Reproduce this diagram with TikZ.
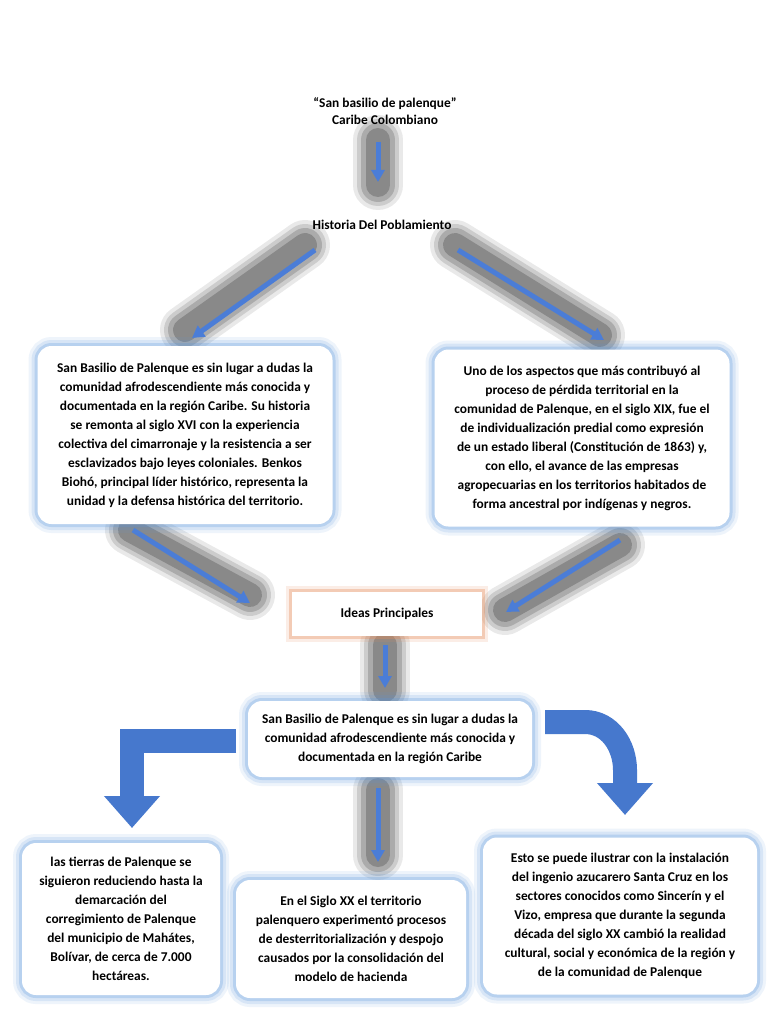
\documentclass[tikz,border=0pt]{standalone}
\usepackage{fontspec}
\setmainfont{Carlito}
\usetikzlibrary{arrows.meta}
\definecolor{glowblue}{RGB}{90,150,220}
\definecolor{bandblue}{RGB}{70,120,205}
\definecolor{arrblue}{RGB}{75,125,215}
\definecolor{orng}{RGB}{230,140,90}
\tikzset{
  box/.style={fill=white, rounded corners=14pt, align=center, inner sep=4pt,
    preaction={draw=glowblue, line width=18pt, opacity=.10, rounded corners=14pt},
    preaction={draw=glowblue, line width=12pt, opacity=.15, rounded corners=14pt},
    preaction={draw=glowblue, line width=6pt, opacity=.25, rounded corners=14pt},
    font=\bfseries\fontsize{13.4}{19}\selectfont},
  obox/.style={fill=white, align=center,
    preaction={draw=orng, line width=12pt, opacity=.15},
    preaction={draw=orng, line width=6pt, opacity=.35},
    font=\bfseries\fontsize{13.4}{15}\selectfont},
  plain/.style={align=center, font=\bfseries\fontsize{13.4}{17}\selectfont},
  grayarrow/.style={line cap=round,
    preaction={draw=black!70, line width=50pt, opacity=.12, line cap=round},
    preaction={draw=black!70, line width=42pt, opacity=.18, line cap=round},
    preaction={draw=black!70, line width=34pt, opacity=.25, line cap=round},
    draw=black!70, line width=24pt, opacity=.35},
  bluearrow/.style={draw=arrblue, line width=5pt, -{Triangle[width=13pt,length=12pt]}},
  band/.style={draw=bandblue, line width=24pt, -{Triangle[width=54pt,length=32pt]}},
}
\begin{document}
\begin{tikzpicture}[x=1pt,y=-1pt]
\useasboundingbox (0,0) rectangle (768,1024);
\fill[white] (0,0) rectangle (768,1024);
% gray arrows
\coordinate (g1a) at (378,140); \coordinate (g1b) at (378,185);
\coordinate (g2a) at (305,245); \coordinate (g2b) at (185,330);
\coordinate (g3a) at (455,245); \coordinate (g3b) at (600,335);
\coordinate (g4a) at (130,530); \coordinate (g4b) at (250,595);
\coordinate (g5a) at (620,545); \coordinate (g5b) at (505,610);
\coordinate (g6a) at (385,645); \coordinate (g6b) at (385,690);
\coordinate (g7a) at (378,790); \coordinate (g7b) at (378,855);
\foreach \a/\b in {g1a/g1b,g2a/g2b,g3a/g3b,g4a/g4b,g5a/g5b,g6a/g6b,g7a/g7b}{\draw[grayarrow] (\a) -- (\b);}
% blue arrows
\coordinate (b1a) at (378,142); \coordinate (b1b) at (378,182);
\coordinate (b2a) at (315,250); \coordinate (b2b) at (192,338);
\coordinate (b3a) at (458,250); \coordinate (b3b) at (604,340);
\coordinate (b4a) at (133,530); \coordinate (b4b) at (250,603);
\coordinate (b5a) at (620,540); \coordinate (b5b) at (506,612);
\coordinate (b6a) at (385,645); \coordinate (b6b) at (385,688);
\coordinate (b7a) at (378,788); \coordinate (b7b) at (378,862);
\foreach \a/\b in {b1a/b1b,b2a/b2b,b3a/b3b,b4a/b4b,b5a/b5b,b6a/b6b,b7a/b7b}{\draw[bluearrow] (\a) -- (\b);}
% texts
\node[plain] (title) at (385,111) {“San basilio de palenque”\\Caribe Colombiano};
\node[plain] (hist) at (382,225) {Historia Del Poblamiento};
\node[box, minimum width=295pt, minimum height=178pt] (lb) at (185,435)
 {San Basilio de Palenque es sin lugar a dudas la\\ comunidad afrodescendiente más conocida y\\ documentada en la región Caribe. Su historia\\ se remonta al siglo XVI con la experiencia\\ colectiva del cimarronaje y la resistencia a ser\\ esclavizados bajo leyes coloniales. Benkos\\ Biohó, principal líder histórico, representa la\\ unidad y la defensa histórica del territorio.};
\node[box, minimum width=295pt, minimum height=177pt] (rb) at (582,438)
 {Uno de los aspectos que más contribuyó al\\ proceso de pérdida territorial en la\\ comunidad de Palenque, en el siglo XIX, fue el\\ de individualización predial como expresión\\ de un estado liberal (Constitución de 1863) y,\\ con ello, el avance de las empresas\\ agropecuarias en los territorios habitados de\\ forma ancestral por indígenas y negros.};
\node[obox, minimum width=190pt, minimum height=44pt] (ip) at (387,614) {Ideas Principales};
\node[box, minimum width=284pt, minimum height=76pt] (mb) at (390,739)
 {San Basilio de Palenque es sin lugar a dudas la\\ comunidad afrodescendiente más conocida y\\ documentada en la región Caribe};
% blue bands
\coordinate (l1) at (236,741); \coordinate (l2) at (132,741); \coordinate (l3) at (132,828);
\draw[band] (l1) -- (l2) -- (l3);
\coordinate (r1) at (545,722); \coordinate (r2) at (625,815);
\draw[band] (r1) -- (585,722) to[out=0,in=90] (625,770) -- (r2);
\node[box, minimum width=198pt, minimum height=152pt] (b1) at (121,919)
 {las tierras de Palenque se\\ siguieron reduciendo hasta la\\ demarcación del\\ corregimiento de Palenque\\ del municipio de Mahátes,\\ Bolívar, de cerca de 7.000\\ hectáreas.};
\node[box, minimum width=230pt, minimum height=118pt] (b2) at (351,939)
 {En el Siglo XX el territorio\\ palenquero experimentó procesos\\ de desterritorialización y despojo\\ causados por la consolidación del\\ modelo de hacienda};
\node[box, minimum width=274pt, minimum height=157pt] (b3) at (620,916)
 {Esto se puede ilustrar con la instalación\\ del ingenio azucarero Santa Cruz en los\\ sectores conocidos como Sincerín y el\\ Vizo, empresa que durante la segunda\\ década del siglo XX cambió la realidad\\ cultural, social y económica de la región y\\ de la comunidad de Palenque};
\end{tikzpicture}
\end{document}
